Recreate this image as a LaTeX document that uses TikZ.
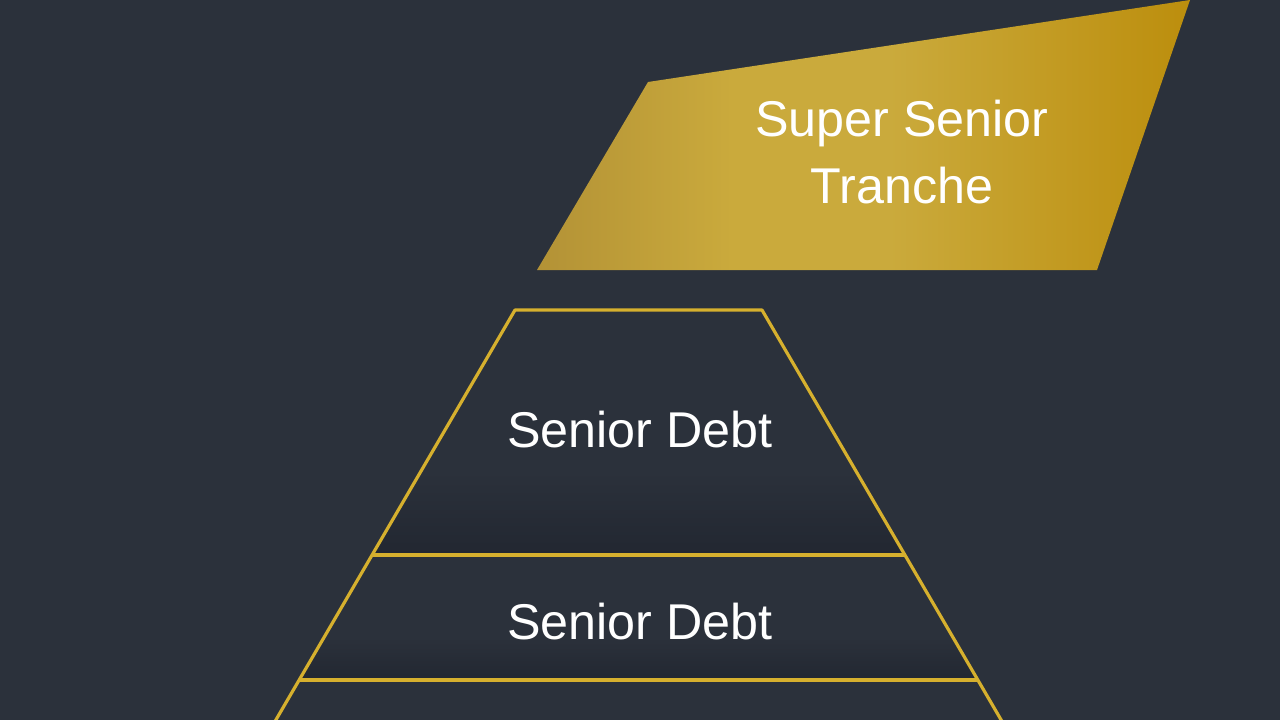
\documentclass[tikz,border=0pt]{standalone}
\usepackage{fontspec}
\setmainfont{Liberation Sans}
\definecolor{bg}{HTML}{2B313B}
\definecolor{bgdark}{HTML}{222731}
\definecolor{goldline}{HTML}{D6B02E}
\definecolor{goldA}{HTML}{B39236}
\definecolor{goldB}{HTML}{CAAA3C}
\definecolor{goldC}{HTML}{BC8E0D}
\pgfdeclarehorizontalshading{goldshade}{100bp}{color(0bp)=(goldA); color(25bp)=(goldA);
  color(40bp)=(goldB); color(52bp)=(goldB); color(75bp)=(goldC); color(100bp)=(goldC)}
\pgfdeclareverticalshading{bandshade}{100bp}{color(0bp)=(bgdark); color(25bp)=(bgdark);
  color(42bp)=(bg); color(100bp)=(bg)}

\begin{document}
\begin{tikzpicture}[x=0.75pt,y=-0.75pt,
  tierlabel/.style={text=white,font=\fontsize{37.7}{50}\selectfont,align=center},
  tierline/.style={draw=goldline,line width=2.4pt,line join=round},
  band/.style={shading=bandshade}]
\fill[bg] (0,0) rectangle (1280,720);
\useasboundingbox (0,0) rectangle (1280,720);

% top tranche
\shade[shading=goldshade]
  (537,270) -- (648,82) -- (1190,0) -- (1097,270) -- cycle;
\node[tierlabel] (super) at (902,152) {Super Senior\\Tranche};

% pyramid corners
\coordinate (t1l) at (515,310);
\coordinate (t1r) at (762,310);
\coordinate (t2l) at (372,555);
\coordinate (t2r) at (905,555);
\coordinate (t3l) at (299,680);
\coordinate (t3r) at (978,680);
\coordinate (t4l) at (270,730);
\coordinate (t4r) at (1007,730);

\shade[band] (t1l) -- (t1r) -- (t2r) -- (t2l) -- cycle;
\shade[band] (t2l) -- (t2r) -- (t3r) -- (t3l) -- cycle;

\draw[tierline] (t4l) -- (t1l) -- (t1r) -- (t4r);
\foreach \a in {2,3}
\draw[tierline] (t\a l) -- (t\a r);

\node[tierlabel] (senior1) at (640,430) {Senior Debt};
\node[tierlabel] (senior2) at (640,622) {Senior Debt};
\end{tikzpicture}
\end{document}
